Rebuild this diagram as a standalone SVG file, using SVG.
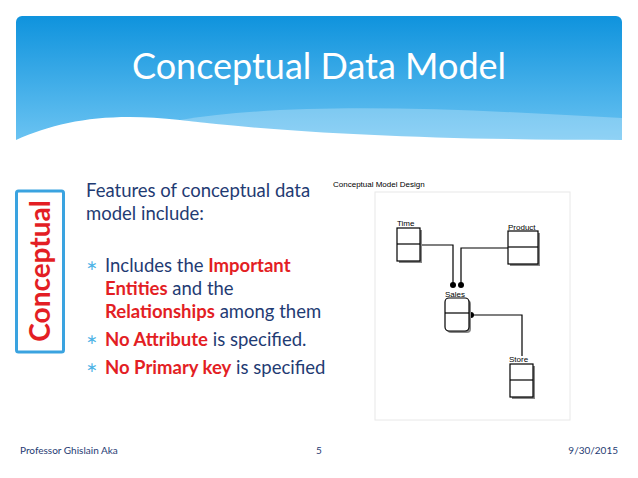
<svg xmlns="http://www.w3.org/2000/svg" width="638" height="478" viewBox="0 0 638 478">
<defs>
<linearGradient id="hg" x1="0" y1="0" x2="0" y2="1"><stop offset="0" stop-color="#0f93dd"/><stop offset="1" stop-color="#6ac3f2"/></linearGradient>
<style>
.t{font-family:Lato,"Open Sans",sans-serif;font-size:18.5px;fill:#1f3b73}
.r{fill:#e31e24;font-weight:bold}
.b{fill:#4db3e6;font-size:14px}
.ent{fill:#fff;stroke:#000;stroke-width:1.2}
.lbl{font-family:"Liberation Sans",sans-serif;font-size:8px;fill:#000}
.ln{fill:none;stroke:#000;stroke-width:1.2}
.f{font-family:Lato,sans-serif;font-size:10px;fill:#1f3b73}
</style>
</defs>
<rect width="638" height="478" fill="#fff"/>
<g id="header">
<path d="M22,16 H616 a6,6 0 0 1 6,6 V140 H16 V22 a6,6 0 0 1 6,-6Z" fill="url(#hg)"/>
<path d="M16,140 C60,120 110,112 180,120 C280,132 420,140 622,140 Z" fill="#fff"/>
<path d="M180,120 C300,100 480,110 622,118 V140 C500,140 380,138 300,135 Z" fill="#fff" opacity="0.25"/>
<text x="319" y="79" text-anchor="middle" font-family="Lato,'Open Sans',sans-serif" font-size="36" fill="#fff">Conceptual Data Model</text>
</g>
<g id="label-conceptual">
<rect x="16.5" y="191" width="47" height="161" fill="#fff" stroke="#3aa3e0" stroke-width="3" rx="2"/>
<text transform="translate(50,271) rotate(-90)" text-anchor="middle" font-family="Lato,'Open Sans',sans-serif" font-weight="bold" font-size="28" fill="#e31e24">Conceptual</text>
</g>
<g id="text">
<text class="t" x="86" y="197">Features of conceptual data</text>
<text class="t" x="86" y="220">model include:</text>
<text class="t b" x="86" y="270">∗</text>
<text class="t" x="105" y="272">Includes the <tspan class="r">Important</tspan></text>
<text class="t" x="105" y="295"><tspan class="r">Entities</tspan> and the</text>
<text class="t" x="105" y="318"><tspan class="r">Relationships</tspan> among them</text>
<text class="t b" x="86" y="344">∗</text>
<text class="t" x="105" y="346"><tspan class="r">No Attribute</tspan> is specified.</text>
<text class="t b" x="86" y="372">∗</text>
<text class="t" x="105" y="374"><tspan class="r">No Primary key</tspan> is specified</text>
</g>
<rect x="330" y="176" width="308" height="260" fill="#fff"/>
<text class="lbl" x="333" y="187">Conceptual Model Design</text>
<rect x="375" y="192" width="195" height="228" fill="#fff" stroke="#e8e8e8"/>
<g id="connectors">
<path class="ln" d="M420,245 H453 V285"/>
<path class="ln" d="M508,248 H461 V285"/>
<path class="ln" d="M471,315 H522 V356"/>
<circle cx="453" cy="285" r="3"/><circle cx="461" cy="285" r="3"/><circle cx="471" cy="315" r="3"/>
</g>
<g id="time"><text class="lbl" x="397" y="226">Time</text><rect x="399" y="230" width="23" height="33" fill="#888"/><rect class="ent" x="397" y="228" width="23" height="33"/><line class="ln" x1="397" y1="244" x2="420" y2="244"/></g>
<g id="product"><text class="lbl" x="508" y="230">Product</text><rect x="510" y="233" width="30" height="33" fill="#888"/><rect class="ent" x="508" y="231" width="30" height="33"/><line class="ln" x1="508" y1="247" x2="538" y2="247"/></g>
<g id="sales"><text class="lbl" x="445" y="297">Sales</text><rect x="447" y="300" width="24" height="33" rx="4" fill="#888"/><rect class="ent" x="445" y="298" width="24" height="33" rx="4"/><line class="ln" x1="445" y1="313" x2="469" y2="313"/></g>
<g id="store"><text class="lbl" x="509" y="362">Store</text><rect x="512" y="366" width="23" height="33" fill="#888"/><rect class="ent" x="510" y="364" width="23" height="33"/><line class="ln" x1="510" y1="380" x2="533" y2="380"/></g>
<g id="footer">
<text class="f" x="20" y="454">Professor Ghislain Aka</text>
<text class="f" x="319" y="454" text-anchor="middle">5</text>
<text class="f" x="618" y="454" text-anchor="end">9/30/2015</text>
</g>
</svg>
